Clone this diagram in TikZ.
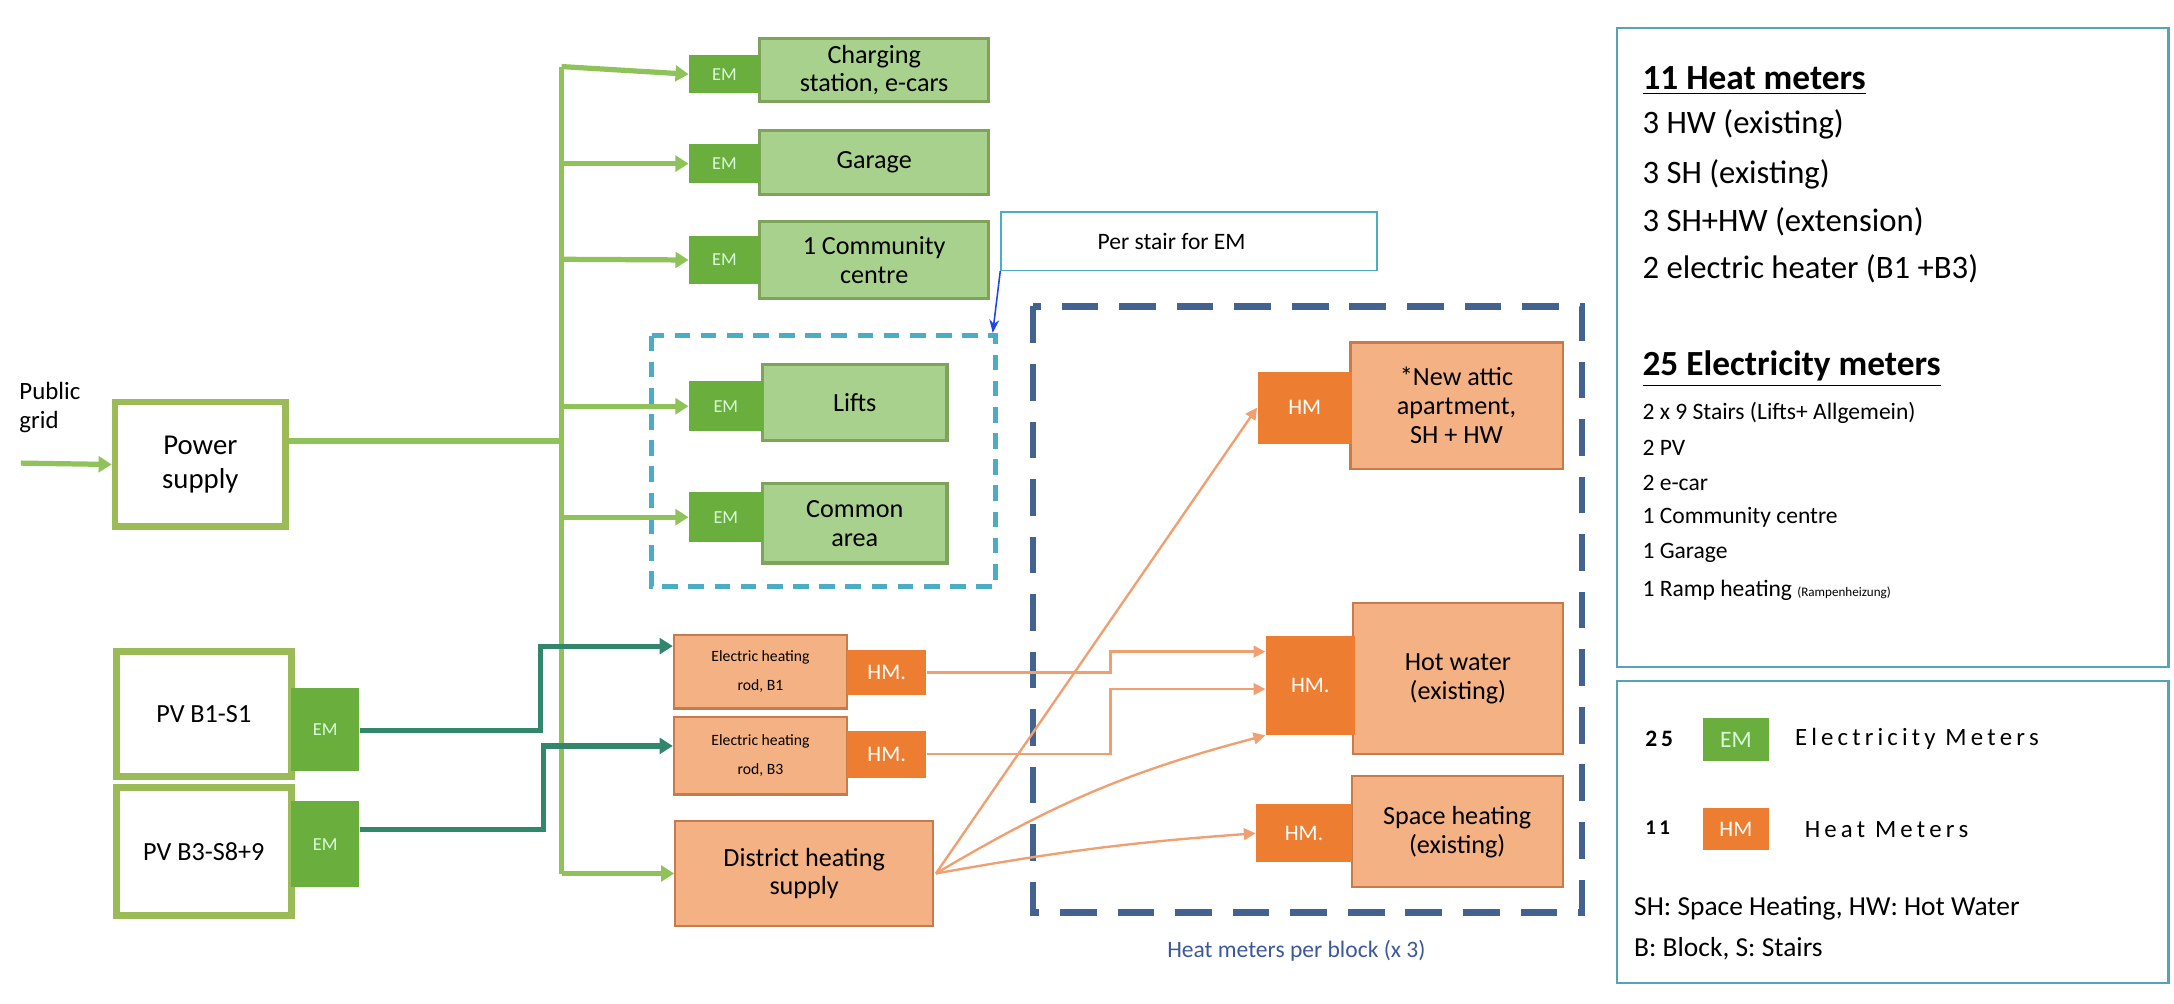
\documentclass[tikz,border=0pt]{standalone}
\usepackage{fontspec}
\setmainfont{Carlito}
\usetikzlibrary{arrows.meta,calc}
\definecolor{lg}{HTML}{8FC35A}
\definecolor{dg}{HTML}{31866B}
\definecolor{emc}{HTML}{6AAE3E}
\definecolor{gfill}{HTML}{A9D18E}
\definecolor{gbor}{HTML}{7FA35B}
\definecolor{ofill}{HTML}{F4B183}
\definecolor{obor}{HTML}{C97A4A}
\definecolor{hmc}{HTML}{ED7D31}
\definecolor{oline}{HTML}{F0A070}
\definecolor{teal}{HTML}{4BACC6}
\definecolor{navy}{HTML}{44628F}
\definecolor{psb}{HTML}{9BBB59}
\newcommand\bx[7]{\node[#6, minimum width={(#4-#2)*0.53pt}, minimum height={(#5-#3)*0.53pt}] (#1) at ({(#2+#4)/2},{(#3+#5)/2}) {#7};}
\tikzset{
 gbox/.style={draw=gbor,line width=1.2pt,fill=gfill,inner sep=0pt,align=center,font=\fontsize{10}{11}\selectfont},
 em/.style={fill=emc,inner sep=0pt,text=white!85!green,font=\fontsize{7}{8}\selectfont},
 obox/.style={draw=obor,line width=0.8pt,fill=ofill,inner sep=0pt,align=center,font=\fontsize{10}{11}\selectfont},
 hm/.style={fill=hmc,inner sep=0pt,text=white,font=\fontsize{8.5}{9}\selectfont},
 wbox/.style={draw=psb,line width=2.6pt,fill=white,inner sep=0pt,align=center,font=\fontsize{11}{13}\selectfont},
 gl/.style={lg,line width=2pt},
 ga/.style={gl,-{Triangle[length=5pt,width=6pt]}},
 da/.style={dg,line width=2pt,-{Triangle[length=5pt,width=6pt]}},
 oa/.style={oline,line width=0.9pt,-{Triangle[length=4.5pt,width=4.5pt]}},
}
\begin{document}
\begin{tikzpicture}[x=0.53pt,y=-0.53pt]
\useasboundingbox (0,0) rectangle (1568,724);
% green boxes
\bx{cs}{548}{28}{713}{73}{gbox}{Charging\\station, e-cars}
\bx{ecs}{497}{40}{548}{67}{em}{EM}
\bx{ga}{548}{94}{713}{140}{gbox}{Garage}
\bx{ega}{497}{104}{548}{132}{em}{EM}
\bx{cc}{548}{160}{713}{215}{gbox}{1 Community\\centre}
\bx{ecc}{497}{170}{548}{205}{em}{EM}
\bx{li}{550}{263}{683}{318}{gbox}{Lifts}
\bx{eli}{497}{275}{550}{311}{em}{EM}
\bx{ca}{550}{349}{683}{406}{gbox}{Common\\area}
\bx{eca}{497}{355}{550}{391}{em}{EM}
% stair box
\draw[teal,line width=2pt,dash pattern=on 6pt off 4pt] (470,242) rectangle (718,423);
\bx{ps1}{722}{153}{993}{195}{draw=teal,line width=0.6pt,inner sep=0pt,font=\fontsize{9}{10}\selectfont}{}
\node[anchor=west,font=\fontsize{9}{10}\selectfont] (pst) at (785,174) {Per stair for EM};
\coordinate (stc) at (716,240);
\draw[{Stealth[length=5pt]}-,blue!60!teal,line width=0.6pt] (stc) -- (ps1.south west);
% block box
\draw[navy,line width=2.6pt,dash pattern=on 14pt off 8pt] (745,221) rectangle (1141,658);
\node[navy!90!blue,font=\fontsize{9}{10}\selectfont] (hmb) at (935,686) {Heat meters per block (x 3)};
% power supply
\node[align=left,font=\fontsize{9.5}{11}\selectfont] (pg) at (36,294) {Public\\grid};
\bx{ps}{83}{290}{206}{380}{wbox}{Power\\supply}
\coordinate (pgs) at (15,334);
\draw[ga] (pgs) -- (ps.west);
\bx{pv1}{84}{470}{210}{560}{wbox}{\fontsize{10}{11}\selectfont PV B1-S1}
\bx{epv1}{210}{496}{259}{556}{em}{EM}
\bx{pv3}{84}{568}{210}{660}{wbox}{\fontsize{10}{11}\selectfont PV B3-S8+9}
\bx{epv3}{210}{578}{259}{640}{em}{EM}
% orange
\bx{r1}{486}{458}{611}{511}{obox}{\fontsize{6}{9}\selectfont Electric heating\\\fontsize{6}{9}\selectfont rod, B1}
\bx{hr1}{611}{469}{668}{501}{hm}{HM.}
\bx{r3}{486}{517}{611}{573}{obox}{\fontsize{6}{9}\selectfont Electric heating\\\fontsize{6}{9}\selectfont rod, B3}
\bx{hr3}{611}{527}{668}{561}{hm}{HM.}
\bx{dh}{487}{592}{673}{668}{obox}{District heating\\supply}
\bx{at}{974}{247}{1127}{338}{obox}{*New attic\\apartment,\\SH + HW}
\bx{hat}{907}{268}{975}{320}{hm}{HM}
\bx{hw}{976}{435}{1127}{544}{obox}{Hot water\\(existing)}
\bx{hhw}{913}{459}{977}{530}{hm}{HM.}
\bx{sh}{975}{560}{1127}{640}{obox}{Space heating\\(existing)}
\bx{hsh}{906}{580}{975}{622}{hm}{HM.}
% green trunk
\coordinate (tt) at (405,48);
\coordinate (tm) at (405,318);
\coordinate (tb) at (405,630);
\draw[gl] (ps.east |- tm) -- (tm);
\draw[gl] (tt) -- (tb);
\draw[ga] (tt) -- (ecs.west);
\draw[ga] (405,118) -- (ega.west);
\draw[ga] (405,187) -- (ecc.west);
\draw[ga] (405,293) -- (eli.west);
\draw[ga] (405,373) -- (eca.west);
\draw[ga] (tb) -- (dh.west |- tb);
% dark green
\draw[da] (epv1.east |- 0,527) -| (390,466) -- (r1.west |- 0,466);
\draw[da] (epv3.east |- 0,598) -| (392,538) -- (r3.west |- 0,538);
% orange lines
\draw[oa] (hr1.east) -- (801,485) -- (801,470) -- (hhw.west |- 0,470);
\draw[oa] (hr3.east) -- (801,544) -- (801,497) -- (hhw.west |- 0,497);
\coordinate (dho) at (675,630);
\draw[oa] (dho) -- (hat.west);
\draw[oa] (dho) to[bend left=8] (hhw.south west);
\draw[oa] (dho) to[bend left=3] (hsh.west);
% right panel
\bx{rb1}{1166}{20}{1564}{481}{draw=teal!80!gray,line width=0.8pt}{}
\node[anchor=west,font=\fontsize{13.5}{15}\selectfont\bfseries] (h1) at (1178,58) {\underline{11 Heat meters}};
\node[anchor=west,font=\fontsize{12.5}{14}\selectfont] (l1) at (1178,90) {3 HW (existing)};
\node[anchor=west,font=\fontsize{12.5}{14}\selectfont] (l2) at (1178,126) {3 SH (existing)};
\node[anchor=west,font=\fontsize{12.5}{14}\selectfont] (l3) at (1178,160) {3 SH+HW (extension)};
\node[anchor=west,font=\fontsize{12.5}{14}\selectfont] (l4) at (1178,194) {2 electric heater (B1 +B3)};
\node[anchor=west,font=\fontsize{13.5}{15}\selectfont\bfseries] (h2) at (1178,266) {\underline{25 Electricity meters}};
\node[anchor=west,font=\fontsize{9}{10}\selectfont] (e1) at (1178,298) {2 x 9 Stairs (Lifts+ Allgemein)};
\node[anchor=west,font=\fontsize{9}{10}\selectfont] (e2) at (1178,323) {2 PV};
\node[anchor=west,font=\fontsize{9}{10}\selectfont] (e3) at (1178,348) {2 e-car};
\node[anchor=west,font=\fontsize{9}{10}\selectfont] (e4) at (1178,373) {1 Community centre};
\node[anchor=west,font=\fontsize{9}{10}\selectfont] (e5) at (1178,399) {1 Garage};
\node[anchor=west,font=\fontsize{9}{10}\selectfont] (e6) at (1178,426) {1 Ramp heating {\fontsize{5}{6}\selectfont(Rampenheizung)}};
\bx{rb2}{1166}{491}{1564}{709}{draw=teal!80!gray,line width=0.8pt}{}
\node[anchor=west,font=\fontsize{9}{10}\selectfont\bfseries] (n25) at (1180,533) {2\,5};
\bx{lem}{1228}{518}{1276}{549}{em}{\fontsize{9}{10}\selectfont EM}
\node[anchor=west,font=\fontsize{9.5}{10}\selectfont] (tem) at (1288,533) {E\,l\,e\,c\,t\,r\,i\,c\,i\,t\,y\, M\,e\,t\,e\,r\,s};
\node[anchor=west,font=\fontsize{8}{10}\selectfont\bfseries] (n11) at (1180,597) {1\,1};
\bx{lhm}{1228}{583}{1276}{613}{hm}{\fontsize{8.5}{10}\selectfont HM}
\node[anchor=west,font=\fontsize{9.5}{10}\selectfont] (thm) at (1295,598) {H\,e\,a\,t\, M\,e\,t\,e\,r\,s};
\node[anchor=west,font=\fontsize{10.5}{12}\selectfont] (k1) at (1172,655) {SH: Space Heating, HW: Hot Water};
\node[anchor=west,font=\fontsize{10.5}{12}\selectfont] (k2) at (1172,684) {B: Block, S: Stairs};
\end{tikzpicture}
\end{document}
